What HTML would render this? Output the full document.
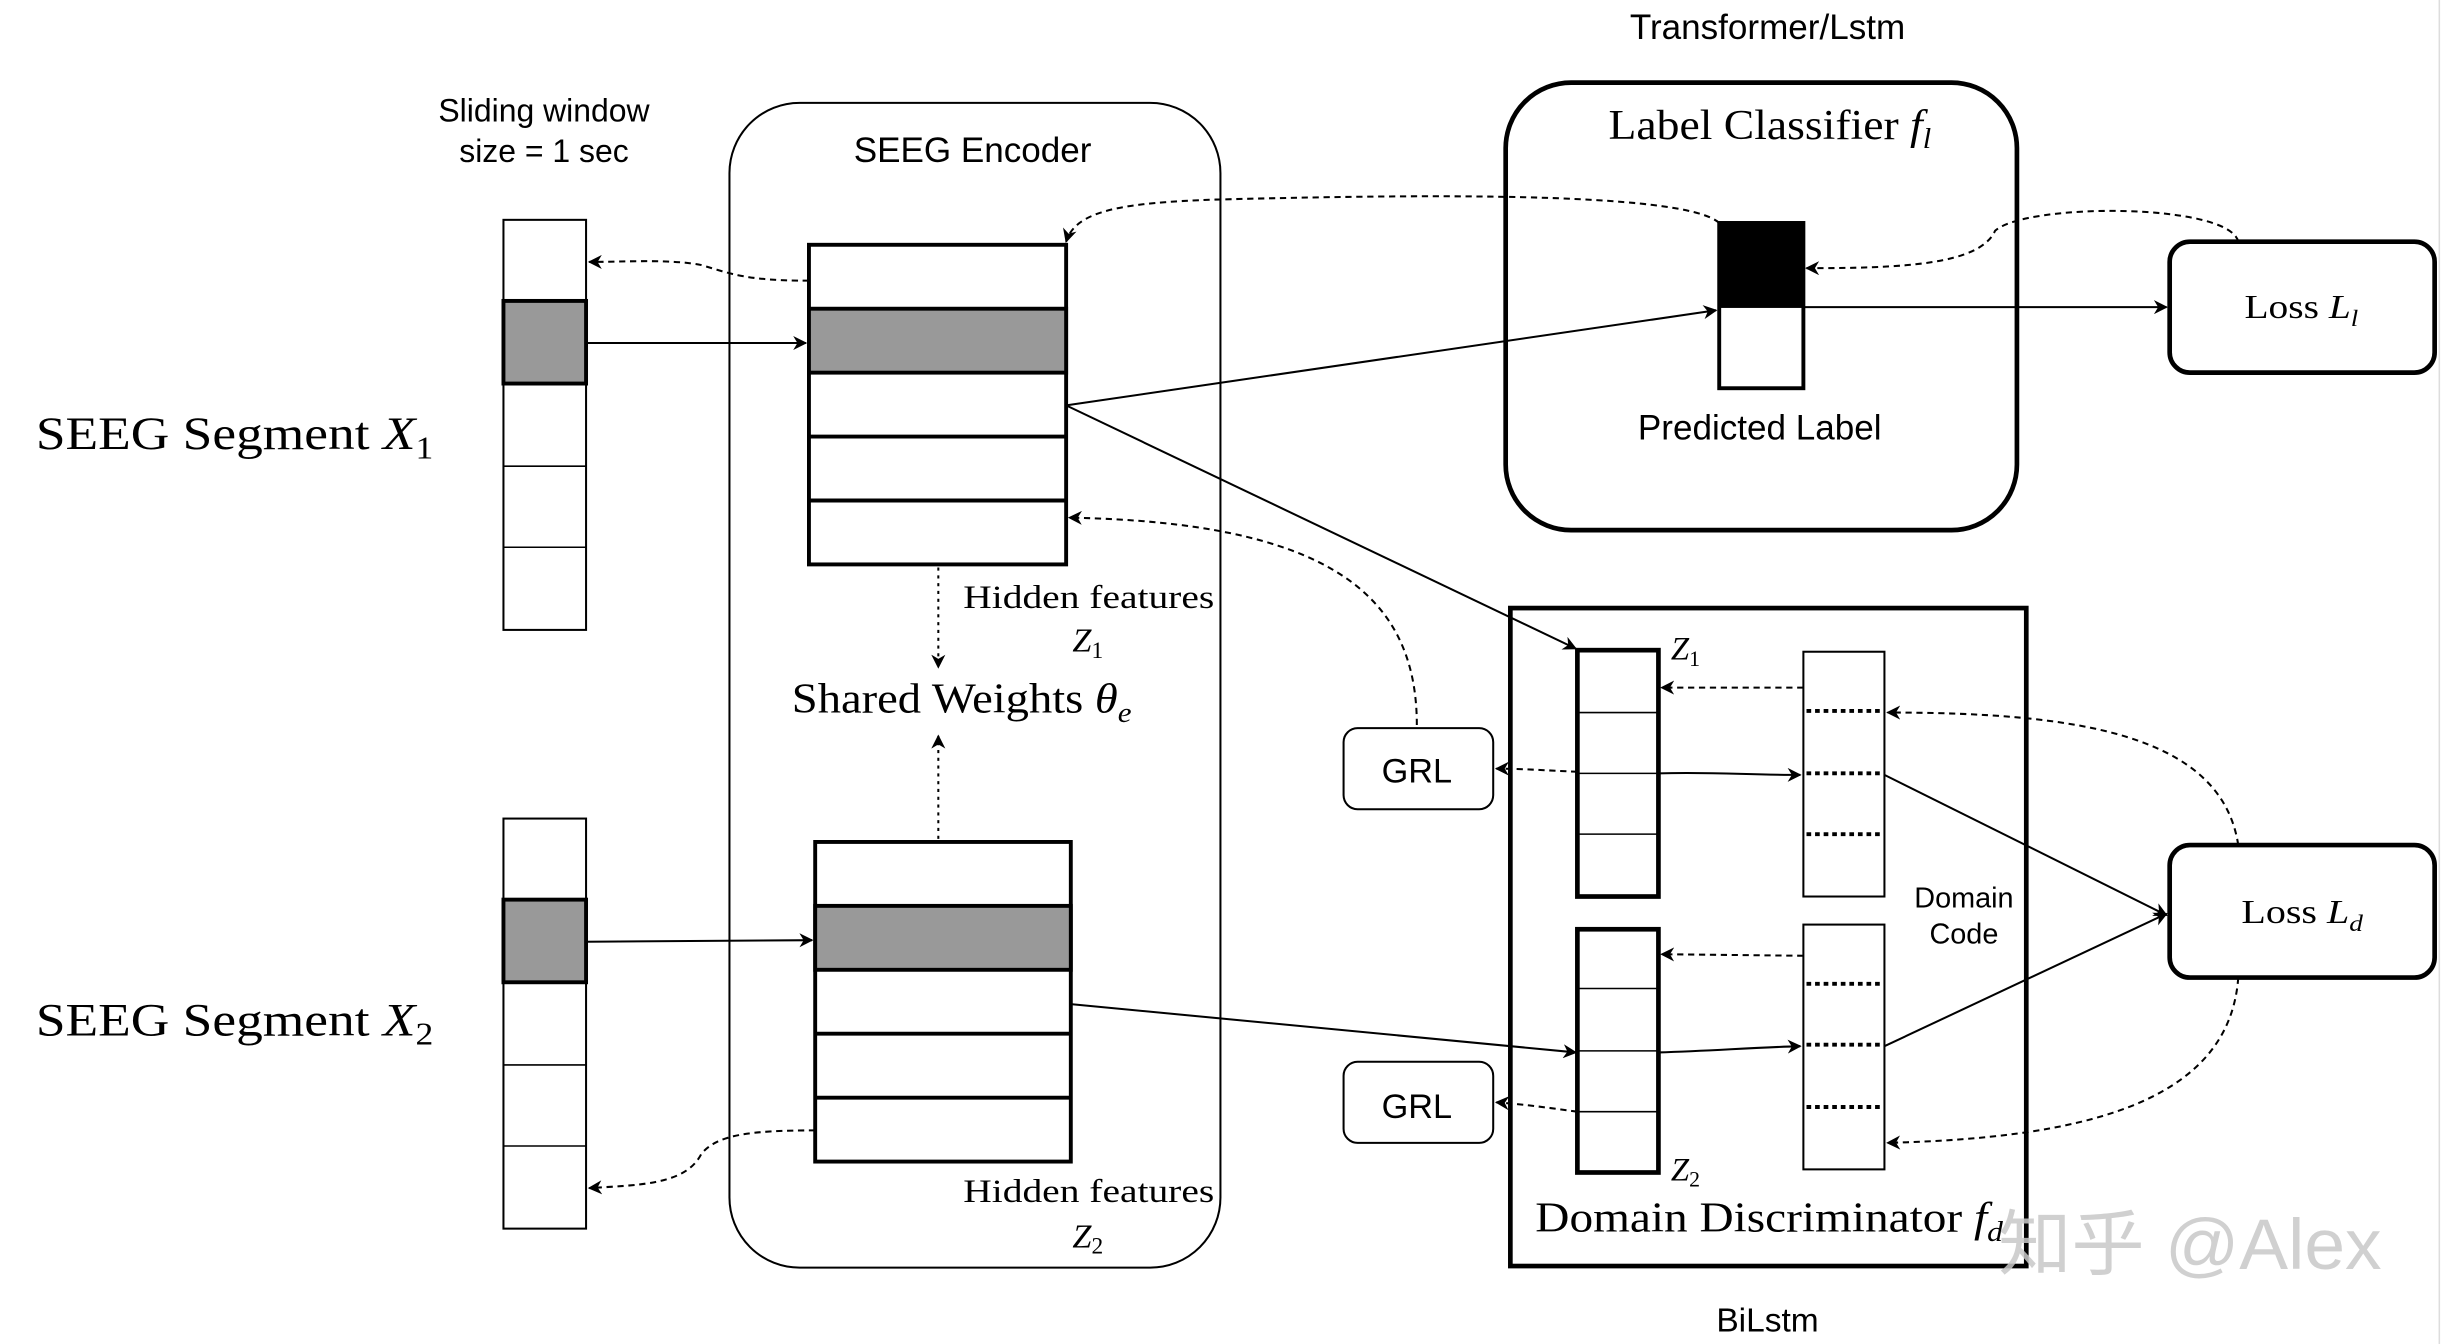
<!DOCTYPE html>
<html><head><meta charset="utf-8"><style>
html,body{margin:0;padding:0;background:#fff;}
svg{display:block;}
.s{font-family:"Liberation Sans",sans-serif;}
.r{font-family:"Liberation Serif",serif;}
</style></head><body>
<svg width="2444" height="1344" viewBox="0 0 1568 862" preserveAspectRatio="none" xmlns="http://www.w3.org/2000/svg">
<defs>
<marker id="a" viewBox="0 0 10 10" refX="9" refY="5" markerWidth="9" markerHeight="9" markerUnits="userSpaceOnUse" orient="auto"><path d="M0,0 L10,5 L0,10 L3,5 z" fill="#000"/></marker>
</defs>
<rect width="1568" height="862" fill="#fff"/>
<line x1="1565" y1="0" x2="1565" y2="862" stroke="#ddd" stroke-width="1"/>
<g fill="none" stroke="#000">
<rect x="323" y="141" width="53" height="263" stroke-width="1.3"/>
<line x1="323" y1="246" x2="376" y2="246"/><line x1="323" y1="299" x2="376" y2="299"/><line x1="323" y1="351" x2="376" y2="351"/>
<rect x="323" y="193" width="53" height="53" fill="#999" stroke-width="2.5"/>
<rect x="323" y="525" width="53" height="263" stroke-width="1.3"/>
<line x1="323" y1="630" x2="376" y2="630"/><line x1="323" y1="683" x2="376" y2="683"/><line x1="323" y1="735" x2="376" y2="735"/>
<rect x="323" y="577" width="53" height="53" fill="#999" stroke-width="2.5"/>
<rect x="468" y="66" width="315" height="747" rx="45" stroke-width="1.3"/>
<rect x="519" y="157" width="165" height="205" stroke-width="2.5"/>
<rect x="519" y="198" width="165" height="41" fill="#999" stroke-width="2.5"/>
<line x1="519" y1="280" x2="684" y2="280" stroke-width="2.5"/><line x1="519" y1="321" x2="684" y2="321" stroke-width="2.5"/>
<rect x="523" y="540" width="164" height="205" stroke-width="2.5"/>
<rect x="523" y="581" width="164" height="41" fill="#999" stroke-width="2.5"/>
<line x1="523" y1="663" x2="687" y2="663" stroke-width="2.5"/><line x1="523" y1="704" x2="687" y2="704" stroke-width="2.5"/>
<rect x="966" y="53" width="328" height="287" rx="42" stroke-width="3"/>
<rect x="1103" y="143" width="54" height="106" stroke-width="2.5"/>
<rect x="1103" y="143" width="54" height="54" fill="#000"/>
<rect x="1392" y="155" width="170" height="84" rx="13" stroke-width="3"/>
<rect x="969" y="390" width="331" height="422" stroke-width="3"/>
<rect x="1012" y="417" width="52" height="158" stroke-width="3"/>
<line x1="1012" y1="457" x2="1064" y2="457"/><line x1="1012" y1="496" x2="1064" y2="496"/><line x1="1012" y1="535" x2="1064" y2="535"/>
<rect x="1012" y="596" width="52" height="156" stroke-width="3"/>
<line x1="1012" y1="634" x2="1064" y2="634"/><line x1="1012" y1="674" x2="1064" y2="674"/><line x1="1012" y1="713" x2="1064" y2="713"/>
<rect x="1157" y="418" width="52" height="157" stroke-width="1.3"/>
<rect x="1157" y="593" width="52" height="157" stroke-width="1.3"/>
<g stroke-width="2.5" stroke-dasharray="3,2.5">
<line x1="1159" y1="456" x2="1206" y2="456"/><line x1="1159" y1="496" x2="1206" y2="496"/><line x1="1159" y1="535" x2="1206" y2="535"/>
<line x1="1159" y1="631" x2="1206" y2="631"/><line x1="1159" y1="670" x2="1206" y2="670"/><line x1="1159" y1="710" x2="1206" y2="710"/>
</g>
<rect x="862" y="467" width="96" height="52" rx="9" stroke-width="1.3"/>
<rect x="862" y="681" width="96" height="52" rx="9" stroke-width="1.3"/>
<rect x="1392" y="542" width="170" height="85" rx="13" stroke-width="3"/>
<g stroke-width="1.3" marker-end="url(#a)">
<line x1="376" y1="220" x2="517" y2="220"/>
<line x1="376" y1="604" x2="521" y2="603"/>
<line x1="684" y1="260" x2="1101" y2="199"/>
<line x1="684" y1="260" x2="1011" y2="416"/>
<line x1="1157" y1="197" x2="1390" y2="197"/>
<line x1="687" y1="644" x2="1011" y2="675"/>
<path d="M1064,496 C1100,495 1120,497 1155,497"/>
<path d="M1064,675 C1100,674 1120,672 1155,671"/>
<line x1="1209" y1="497" x2="1390" y2="587"/>
<line x1="1209" y1="671" x2="1390" y2="586"/>
</g>
<g stroke-width="1.3" stroke-dasharray="4,3" marker-end="url(#a)">
<path d="M519,180 C480,180 470,176 450,170 C430,166 400,168 378,168"/>
<path d="M523,725 C480,725 460,728 450,740 C440,760 410,760 378,762"/>
<path d="M1103,143 C1080,122 900,125 780,128 C720,130 690,135 684,155"/>
<path d="M1436,155 C1430,130 1300,130 1280,148 C1270,170 1220,172 1159,172"/>
<path d="M909,465 C909,380 850,335 686,332"/>
<path d="M1012,495 C990,494 975,493 960,493"/>
<path d="M1012,713 C990,710 975,708 960,707"/>
<path d="M1157,441 L1066,441"/>
<path d="M1157,613 L1066,612"/>
<path d="M1436,542 C1425,470 1330,457 1211,457"/>
<path d="M1436,627 C1430,710 1330,730 1211,733"/>
<path d="M602,364 L602,428" stroke-dasharray="2,3"/>
<path d="M602,538 L602,472" stroke-dasharray="2,3"/>
</g>
</g>
<g fill="#000">
<text class="s" x="349" y="78" font-size="20.5" text-anchor="middle">Sliding window</text>
<text class="s" x="349" y="104" font-size="20.5" text-anchor="middle">size = 1 sec</text>
<text class="s" x="624" y="104" font-size="22.5" text-anchor="middle">SEEG Encoder</text>
<text class="s" x="1134" y="25" font-size="22.5" text-anchor="middle">Transformer/Lstm</text>
<text class="s" x="1129" y="282" font-size="22.5" text-anchor="middle">Predicted Label</text>
<text class="s" x="909" y="502" font-size="22" text-anchor="middle">GRL</text>
<text class="s" x="909" y="717" font-size="22" text-anchor="middle">GRL</text>
<text class="s" x="1260" y="582" font-size="18.5" text-anchor="middle">Domain</text>
<text class="s" x="1260" y="605" font-size="18.5" text-anchor="middle">Code</text>
<text class="s" x="1134" y="854" font-size="21.5" text-anchor="middle">BiLstm</text>
<text class="r" x="23" y="288" font-size="30" textLength="255" lengthAdjust="spacingAndGlyphs">SEEG Segment <tspan font-style="italic">X</tspan><tspan font-size="20" dy="6">1</tspan></text>
<text class="r" x="23" y="664" font-size="30" textLength="255" lengthAdjust="spacingAndGlyphs">SEEG Segment <tspan font-style="italic">X</tspan><tspan font-size="20" dy="6">2</tspan></text>
<text class="r" x="1032" y="89" font-size="27" textLength="207" lengthAdjust="spacingAndGlyphs">Label Classifier <tspan font-style="italic">f</tspan><tspan font-size="18" font-style="italic" dy="6">l</tspan></text>
<text class="r" x="1440" y="204" font-size="22" textLength="73" lengthAdjust="spacingAndGlyphs">Loss <tspan font-style="italic">L</tspan><tspan font-size="15" font-style="italic" dy="5">l</tspan></text>
<text class="r" x="1438" y="592" font-size="22" textLength="78" lengthAdjust="spacingAndGlyphs">Loss <tspan font-style="italic">L</tspan><tspan font-size="15" font-style="italic" dy="5">d</tspan></text>
<text class="r" x="618" y="390" font-size="21" textLength="161" lengthAdjust="spacingAndGlyphs">Hidden features</text>
<text class="r" x="688" y="418" font-size="22" font-style="italic">Z<tspan font-size="15" font-style="normal" dy="4">1</tspan></text>
<text class="r" x="618" y="771" font-size="21" textLength="161" lengthAdjust="spacingAndGlyphs">Hidden features</text>
<text class="r" x="688" y="800" font-size="22" font-style="italic">Z<tspan font-size="15" font-style="normal" dy="4">2</tspan></text>
<text class="r" x="508" y="457" font-size="27" textLength="218" lengthAdjust="spacingAndGlyphs">Shared Weights <tspan font-style="italic">θ</tspan><tspan font-size="18" font-style="italic" dy="6">e</tspan></text>
<text class="r" x="1072" y="423" font-size="21" font-style="italic">Z<tspan font-size="14" font-style="normal" dy="4">1</tspan></text>
<text class="r" x="1072" y="757" font-size="21" font-style="italic">Z<tspan font-size="14" font-style="normal" dy="4">2</tspan></text>
<text class="r" x="985" y="790" font-size="27" textLength="300" lengthAdjust="spacingAndGlyphs">Domain Discriminator <tspan font-style="italic">f</tspan><tspan font-size="18" font-style="italic" dy="6">d</tspan></text>
<text x="1282" y="814" font-size="46" fill="#c8c8c8" textLength="246" lengthAdjust="spacingAndGlyphs" style="font-family:'Liberation Sans','Noto Sans CJK SC',sans-serif;" opacity="0.85">知乎 @Alex</text>
</g>
</svg>
</body></html>
